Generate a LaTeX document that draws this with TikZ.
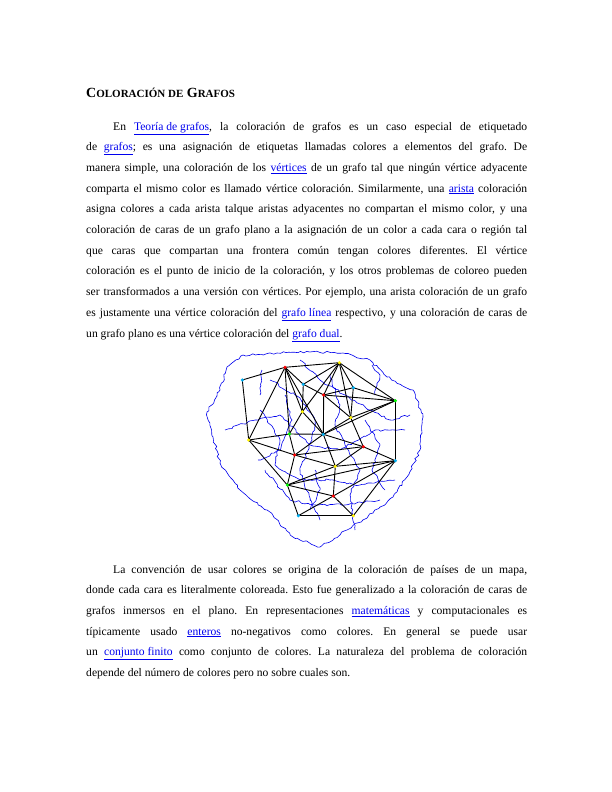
\documentclass[tikz,border=0pt]{standalone}
\usepackage{fontspec}
\setmainfont{Liberation Serif}
\usetikzlibrary{decorations.pathmorphing}
\definecolor{lk}{RGB}{0,0,238}
\newcommand{\lnk}[1]{\textcolor{lk}{\underline{#1}}}
\tikzset{
  txt/.style={anchor=base west,inner sep=0pt},
  ed/.style={black,line width=0.9pt},
  vx/.style={circle,fill=#1,inner sep=0pt,minimum size=3.5pt},
  du/.style={lk,line width=0.6pt,decorate,decoration={random steps,segment length=3pt,amplitude=1.2pt}}
}
\begin{document}
\begin{tikzpicture}[x=1pt,y=-1pt]
\useasboundingbox (0,0) rectangle (612,792);
\fill[white] (0,0) rectangle (612,792);
\node[txt] (title) at (86,97) {\fontsize{14}{16}\selectfont\bfseries C{\fontsize{11}{12}\selectfont OLORACIÓN DE} G{\fontsize{11}{12}\selectfont RAFOS}};
\node[txt] (p1) at (86,130) {\parbox[t]{441pt}{\frenchspacing\fontsize{11.6}{20.7}\selectfont\parindent=27pt\indent
En \lnk{Teoría de grafos}, la coloración de grafos es un caso especial de etiquetado\linebreak
de \lnk{grafos}; es una asignación de etiquetas llamadas colores a elementos del grafo. De\linebreak
manera simple, una coloración de los \lnk{vértices} de un grafo tal que ningún vértice adyacente\linebreak
comparta el mismo color es llamado vértice coloración. Similarmente, una \lnk{arista} coloración\linebreak
asigna colores a cada arista talque aristas adyacentes no compartan el mismo color, y una\linebreak
coloración de caras de un grafo plano a la asignación de un color a cada cara o región tal\linebreak
que caras que compartan una frontera común tengan colores diferentes. El vértice\linebreak
coloración es el punto de inicio de la coloración, y los otros problemas de coloreo pueden\linebreak
ser transformados a una versión con vértices. Por ejemplo, una arista coloración de un grafo\linebreak
es justamente una vértice coloración del \lnk{grafo línea} respectivo, y una coloración de caras de\linebreak
un grafo plano es una vértice coloración del \lnk{grafo dual}.}};
\node[txt] (p2) at (86,573) {\parbox[t]{441pt}{\frenchspacing\fontsize{11.6}{20.7}\selectfont\parindent=27pt\indent
La convención de usar colores se origina de la coloración de países de un mapa,\linebreak
donde cada cara es literalmente coloreada. Esto fue generalizado a la coloración de caras de\linebreak
grafos inmersos en el plano. En representaciones \lnk{matemáticas} y computacionales es\linebreak
típicamente usado \lnk{enteros} no-negativos como colores. En general se puede usar\linebreak
un \lnk{conjunto finito} como conjunto de colores. La naturaleza del problema de coloración\linebreak
depende del número de colores pero no sobre cuales son.}};
% dual (blue) curves
\draw[du] (243,355) -- (277,353) -- (310,352) -- (343,353) -- (370,360) -- (387,377) -- (413,390) -- (423,417) -- (420,450) -- (407,477) -- (393,497) -- (373,513) -- (347,530) -- (320,547) -- (293,537) -- (267,510) -- (240,490) -- (220,463) -- (213,437) -- (207,412) -- (220,390) -- (227,367) -- cycle;
\draw[du] (270,380) -- (300,398) -- (315,420) -- (312,440) -- (300,470) -- (310,500) -- (320,520);
\draw[du] (330,375) -- (340,405) -- (335,425) -- (345,445) -- (360,470) -- (350,495) -- (355,530);
\draw[du] (260,410) -- (280,440) -- (275,465) -- (300,480) -- (330,480) -- (360,485) -- (395,480);
\draw[du] (225,430) -- (255,420) -- (280,415) -- (310,445) -- (340,450) -- (375,430) -- (405,430);
\draw[du] (265,470) -- (290,500) -- (315,505) -- (345,505) -- (380,500);
\draw[du] (300,360) -- (320,380) -- (345,395) -- (370,410) -- (390,420) -- (410,415);
\draw[du] (260,395) -- (262,370);
\draw[du] (375,395) -- (380,375) -- (372,365);
\draw[du] (285,395) -- (292,420) -- (280,450) -- (258,460);
\draw[du] (365,420) -- (380,445) -- (372,470) -- (385,490);
\draw[du] (315,470) -- (320,490) -- (310,510);
% vertices
\path (285,367.3) coordinate (A) (339.3,362.7) coordinate (B) (242.3,380) coordinate (C)
 (303.3,384.3) coordinate (D) (323.7,395) coordinate (E) (353.3,387.7) coordinate (F)
 (395.3,400.7) coordinate (G) (302.3,411.7) coordinate (H) (350.7,417.7) coordinate (I)
 (248.7,440) coordinate (J) (289.3,434) coordinate (K) (323.3,434.3) coordinate (L)
 (363.3,446.7) coordinate (M) (294.7,455) coordinate (N) (395.3,460.7) coordinate (O)
 (335.3,466.3) coordinate (P) (287.3,485) coordinate (Q) (333.3,496) coordinate (R)
 (298.3,515.7) coordinate (S) (353.3,515.7) coordinate (T);
\foreach \a/\b in {A/B,A/C,C/J,A/J,A/K,A/H,A/D,A/L,B/D,B/E,B/F,B/G,B/H,B/I,D/E,D/H,E/F,E/L,E/I,E/G,F/I,F/G,G/I,G/O,G/L,H/K,H/L,I/M,I/L,L/M,M/O,J/K,J/N,J/Q,K/L,K/N,L/N,L/P,N/P,N/M,M/P,P/O,P/Q,Q/O,Q/R,Q/S,R/S,R/T,S/T,T/O,R/O,R/P,N/Q}
  \draw[ed] (\a) -- (\b);
\foreach \p/\c in {A/red,B/yellow,C/cyan,D/cyan,E/red,F/cyan,G/green,H/yellow,I/yellow,J/yellow,K/green,L/cyan,M/red,N/red,O/cyan,P/yellow,Q/green,R/red,S/cyan,T/yellow}
  \node[vx=\c] (v\p) at (\p) {};
\end{tikzpicture}
\end{document}
